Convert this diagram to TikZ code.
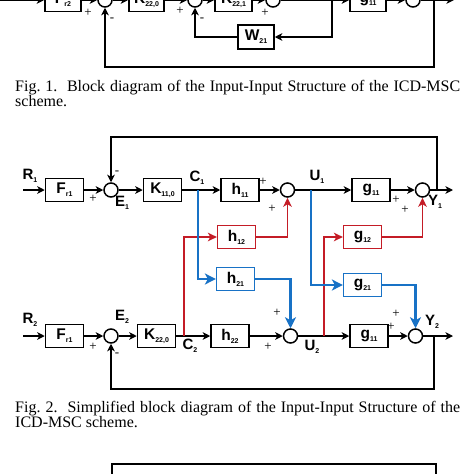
\documentclass[tikz,border=0pt]{standalone}
\usepackage{fontspec}
\setmainfont{Liberation Serif}
\newfontfamily\blkfont{Liberation Sans}
\usetikzlibrary{arrows.meta, positioning}
\definecolor{sigred}{RGB}{196,28,38}
\definecolor{sigblue}{RGB}{24,114,198}
\newcommand{\blab}[2]{\textbf{#1}\raisebox{-0.35ex}{\fontsize{7}{7}\selectfont\textbf{#2}}}
\tikzstyle{block} = [rectangle,
			draw,
			line width=1.5pt,
			inner sep=0pt,
			minimum width=38pt,
			minimum height=23pt,
			font=\blkfont\fontsize{15.5}{15.5}\selectfont]
\tikzstyle{redblock} = [block, draw=sigred, line width=1.2pt]
\tikzstyle{blueblock} = [block, draw=sigblue, line width=1.2pt]
\tikzstyle{sumc} = [circle, draw, line width=1.5pt, inner sep=0pt, minimum size=14pt]
\tikzstyle{wire} = [line width=1.5pt]
\tikzstyle{arr} = [wire, -{Stealth[length=7.5pt, width=7.5pt, inset=2pt]}]
\tikzstyle{redarr} = [line width=1.9pt, sigred, -{Stealth[length=9pt, width=8.5pt, inset=2.5pt]}]
\tikzstyle{bluearr} = [line width=2.7pt, sigblue, -{Stealth[length=11pt, width=11pt, inset=3pt]}]
\tikzstyle{sig} = [inner sep=0pt, font=\blkfont\fontsize{15}{15}\selectfont]
\tikzstyle{sgn} = [inner sep=0pt, font=\fontsize{13}{13}\selectfont]
\tikzstyle{caption} = [inner sep=0pt,
			text width=445pt,
			align=justify,
			font=\fontsize{16}{15}\selectfont]

\begin{document}
\begin{tikzpicture}[x=1pt, y=-1pt]
	\useasboundingbox (0,0) rectangle (474,474);
	\clip (0,0) rectangle (474,474);

	% Fig. 1 (lower part only)
	\coordinate (tin) at (0,0);
	\node [block, minimum width=36pt] (tfr) at (63,0) {\blab{F}{r2}};
	\node [sumc] (t1) at (105,0) {};
	\node [block, minimum width=35pt] (tk0) at (146.5,0) {\blab{K}{22,0}};
	\node [sumc] (t2) at (195,0) {};
	\node [block, minimum width=37pt] (tk1) at (233.5,0) {\blab{K}{22,1}};
	\node [sumc] (t3) at (273,0) {};
	\coordinate (tj1) at (332,0);
	\node [block, minimum width=36pt] (tg) at (368,0) {\blab{g}{11}};
	\node [sumc] (t4) at (413,0) {};
	\coordinate (tj2) at (434,0);
	\coordinate (tout) at (454,0);
	\node [block, minimum width=36pt, minimum height=24pt] (tw) at (256,37) {\blab{W}{21}};
	\coordinate (tfb) at (434,67);

	\draw [arr] (tin) -- (tfr);
	\draw [arr] (tfr) -- (t1);
	\draw [arr] (t1) -- (tk0);
	\draw [arr] (tk0) -- (t2);
	\draw [arr] (t2) -- (tk1);
	\draw [arr] (tk1) -- (t3);
	\draw [arr] (t3) -- (tg);
	\draw [arr] (tg) -- (t4);
	\draw [arr] (t4) -- (tout);
	\draw [arr] (tj1) |- (tw);
	\draw [arr] (tw) -| (t2);
	\draw [arr] (tj2) -- (tfb) -| (t1);

	\node [caption, anchor=base west] (cap1) at (15,91)
		{Fig.~1.\ \ Block diagram of the Input-Input Structure of the ICD-MSC\linebreak scheme.};

	% Fig. 2, first row
	\coordinate (in1) at (23,190);
	\node [block] (fr1) at (64.5,190) {\blab{F}{r1}};
	\node [sumc, right=19pt of fr1] (s1) {};
	\node [block, right=24pt of s1] (k110) {\blab{K}{11,0}};
	\node [block, right=38pt of k110] (h11) {\blab{h}{11}};
	\node [sumc, right=20pt of h11] (s2) {};
	\node [block, right=56pt of s2] (g11a) {\blab{g}{11}};
	\node [sumc, right=24pt of g11a] (s3) {};
	\coordinate (c1) at (198,190);
	\coordinate (u1) at (311,190);
	\coordinate (y1) at (437,190);
	\coordinate (out1) at (453,190);
	\coordinate (fb1) at (437,137);

	% Fig. 2, second row
	\coordinate (in2) at (23,336);
	\node [block] (fr2) at (64.5,336) {\blab{F}{r1}};
	\node [sumc, right=19pt of fr2] (s4) {};
	\node [block, right=18pt of s4] (k220) {\blab{K}{22,0}};
	\node [block, right=34pt of k220] (h22) {\blab{h}{22}};
	\node [sumc, right=33pt of h22] (s5) {};
	\node [block, right=51pt of s5] (g11b) {\blab{g}{11}};
	\node [sumc, right=19pt of g11b] (s6) {};
	\coordinate (c2) at (184,336);
	\coordinate (u2) at (324,336);
	\coordinate (y2) at (434,336);
	\coordinate (out2) at (453,336);
	\coordinate (fb2) at (434,389);

	% cross couplings
	\node [redblock] (h12) at (236.5,237) {\blab{h}{12}};
	\node [redblock] (g12) at (362.5,237) {\blab{g}{12}};
	\node [blueblock] (h21) at (235.5,279) {\blab{h}{21}};
	\node [blueblock] (g21) at (362.5,285) {\blab{g}{21}};

	\draw [arr] (in1) -- (fr1);
	\draw [arr] (fr1) -- (s1);
	\draw [arr] (s1) -- (k110);
	\draw [arr] (k110) -- (h11);
	\draw [arr] (h11) -- (s2);
	\draw [arr] (s2) -- (g11a);
	\draw [arr] (g11a) -- (s3);
	\draw [arr] (s3) -- (out1);
	\draw [arr] (y1) -- (fb1) -| (s1);

	\draw [arr] (in2) -- (fr2);
	\draw [arr] (fr2) -- (s4);
	\draw [arr] (s4) -- (k220);
	\draw [arr] (k220) -- (h22);
	\draw [arr] (h22) -- (s5);
	\draw [arr] (s5) -- (g11b);
	\draw [arr] (g11b) -- (s6);
	\draw [arr] (s6) -- (out2);
	\draw [arr] (y2) -- (fb2) -| (s4);

	\draw [redarr] (c2) |- (h12);
	\draw [redarr] (h12) -| (s2);
	\draw [redarr] (u2) |- (g12);
	\draw [redarr] (g12) -| (s3);
	\draw [bluearr] (c1) |- (h21);
	\draw [bluearr] (h21) -| (s5);
	\draw [bluearr] (u1) |- (g21);
	\draw [bluearr] (g21) -| (s6);

	% signal names
	\node [sig] (lr1) at (30,176) {\blab{R}{1}};
	\node [sig] (le1) at (122,203) {\blab{E}{1}};
	\node [sig] (lc1) at (197,178) {\blab{C}{1}};
	\node [sig] (lu1) at (317,177) {\blab{U}{1}};
	\node [sig] (ly1) at (435,202) {\blab{Y}{1}};
	\node [sig] (lr2) at (30,320) {\blab{R}{2}};
	\node [sig] (le2) at (122,317) {\blab{E}{2}};
	\node [sig] (lc2) at (190,346) {\blab{C}{2}};
	\node [sig] (lu2) at (312,347) {\blab{U}{2}};
	\node [sig] (ly2) at (432,322) {\blab{Y}{2}};

	% signs at the summing points
	\foreach \x/\y/\s [count=\i] in {88/13/+, 112/20/-, 180/11/+, 202/20/-, 265/13/+,
			93/199/+, 117/173/-, 263/182/+, 272/209/+, 396/200/+, 405/210/+,
			93/347/+, 117/355/-, 268/347/+, 277/313/+, 391/327/+, 396/314/+}
		\node [sgn] (sg\i) at (\x,\y) {\s};

	\node [caption, anchor=base west] (cap2) at (15,412.5)
		{Fig.~2.\ \ Simplified block diagram of the Input-Input Structure of the\linebreak ICD-MSC scheme.};

	% next figure frame
	\draw [wire] (112,464) rectangle (436,490);
\end{tikzpicture}
\end{document}
